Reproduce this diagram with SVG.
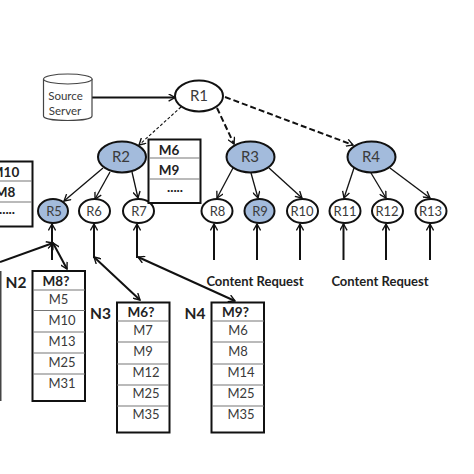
<svg xmlns="http://www.w3.org/2000/svg" width="474" height="474" viewBox="0 0 474 474">
<defs>
<marker id="o" viewBox="0 0 10 10" refX="9" refY="5" markerWidth="8" markerHeight="8" markerUnits="userSpaceOnUse" orient="auto-start-reverse"><path d="M1 0.500L9 5L1 9.500" fill="none" stroke="#111" stroke-width="1.700"/></marker>
</defs>
<style>
text{font-family:"Lato","Liberation Sans",Arial,sans-serif;text-anchor:middle;fill:#3a3a3a}
.n{font-size:15px}.s{font-size:13px}.b{font-weight:bold;fill:#222;font-size:13.500px}
.l{font-weight:bold;fill:#222;font-size:15.500px}
.w{fill:#fff;stroke:#111;stroke-width:2}.f{fill:#a3bbdc;stroke:#111;stroke-width:2}
.t{fill:#fff;stroke:#111;stroke-width:2}.d{stroke:#777;stroke-width:1.200;fill:none}
.c{fill:none;stroke:#111;marker-end:url(#o)}
.r{stroke-width:2}.a{stroke-width:1.300}
.dd{stroke-width:2;stroke-dasharray:6 3}.ds{stroke-width:1.100;stroke-dasharray:3 2}
.b2{marker-start:url(#o)}
</style>
<g id="connectors">
<path class="c r" d="M90 97.500H175"/>
<path class="c ds" d="M181 107L139 145"/>
<path class="c dd" d="M217 108L234 144"/>
<path class="c dd" d="M225 97L353 145"/>
<path class="c a" d="M103 168L64 201"/>
<path class="c a" d="M110 172L95 199"/>
<path class="c a" d="M132 172L138 198"/>
<path class="c a" d="M233 168L217 198"/>
<path class="c a" d="M251 173L258 198"/>
<path class="c a" d="M269 168L302 198"/>
<path class="c a" d="M354 168L344 198"/>
<path class="c a" d="M371 173L386 198"/>
<path class="c a" d="M390 168L430 198"/>
<path class="c r" d="M52 260V224"/>
<path class="c r" d="M94 258V224"/>
<path class="c r" d="M137 258V224"/>
<path class="c r" d="M214 260V224"/>
<path class="c r" d="M257 260V224"/>
<path class="c r" d="M300 260V224"/>
<path class="c r" d="M343.500 260V224"/>
<path class="c r" d="M386 260V224"/>
<path class="c r" d="M430 260V224"/>
<path class="c r" d="M0 262L53 243"/>
<path class="c r b2" d="M53 243L67 269"/>
<path class="c r b2" d="M94 257L140 300"/>
<path class="c r b2" d="M138 257L235 301"/>
</g>
<g id="source"><path d="M43.500 79V116C43.500 122 92 122 92 116V79" fill="#fff" stroke="#444" stroke-width="1.200"/><ellipse cx="67.800" cy="79" rx="24.300" ry="5" fill="#fff" stroke="#444" stroke-width="1.200"/><text x="65.500" y="100" style="font-size:11.500px">Source</text><text x="65" y="115" style="font-size:11.500px">Server</text></g>
<g id="R1"><ellipse class="w" cx="199" cy="96" rx="24" ry="15.500"/><text class="n" x="199" y="101">R1</text></g>
<g id="R2"><ellipse class="f" cx="122" cy="157" rx="24" ry="15.500"/><text class="n" x="121" y="162">R2</text></g>
<g id="R3"><ellipse class="f" cx="250.500" cy="157" rx="24" ry="15.500"/><text class="n" x="250" y="162">R3</text></g>
<g id="R4"><ellipse class="f" cx="371.500" cy="157" rx="24" ry="15.500"/><text class="n" x="371" y="162">R4</text></g>
<g id="R5"><ellipse class="f" cx="53" cy="211" rx="15" ry="12"/><text class="s" x="54" y="216">R5</text></g>
<g id="R6"><ellipse class="w" cx="94.500" cy="211" rx="15.500" ry="12"/><text class="s" x="94" y="216">R6</text></g>
<g id="R7"><ellipse class="w" cx="138.500" cy="211" rx="15.500" ry="12"/><text class="s" x="139" y="216">R7</text></g>
<g id="R8"><ellipse class="w" cx="217" cy="211" rx="15.500" ry="12"/><text class="s" x="217.500" y="216">R8</text></g>
<g id="R9"><ellipse class="f" cx="259.500" cy="211" rx="15" ry="12"/><text class="s" x="260" y="216">R9</text></g>
<g id="R10"><ellipse class="w" cx="302.500" cy="211" rx="15.500" ry="12"/><text class="s" x="302" y="216">R10</text></g>
<g id="R11"><ellipse class="w" cx="345" cy="211" rx="15.500" ry="12"/><text class="s" x="345" y="216">R11</text></g>
<g id="R12"><ellipse class="w" cx="387.500" cy="211" rx="15.500" ry="12"/><text class="s" x="387" y="216">R12</text></g>
<g id="R13"><ellipse class="w" cx="431" cy="211" rx="15.500" ry="12"/><text class="s" x="430.500" y="216">R13</text></g>
<g id="cacheR2"><rect class="t" x="148.500" y="139.500" width="52" height="63.500"/><path class="d" d="M149 158H200M149 179H200"/><text class="b" x="169" y="154.500">M6</text><text class="b" x="169" y="174.500">M9</text><text class="b" x="175" y="192">.....</text></g>
<g id="cacheLeft"><rect class="t" x="-20" y="161.500" width="52.500" height="65"/><path class="d" d="M0 181H32M0 202H32"/><text class="b" x="5" y="176.500">M10</text><text class="b" x="5" y="197">M8</text><text class="b" x="7" y="214">.....</text></g>
<g id="tableLeft"><path d="M0.500 271V401" stroke="#444" stroke-width="2" fill="none"/></g>
<g id="N2"><text class="l" x="16" y="288">N2</text><rect class="t" x="32.500" y="271" width="52.500" height="130"/><path class="d" d="M33 290H85M33 310.500H85M33 332H85M33 353H85M33 374H85"/><text class="b" x="56" y="286">M8?</text><text class="s" x="58.500" y="304">M5</text><text class="s" x="62" y="325">M10</text><text class="s" x="62" y="346">M13</text><text class="s" x="62" y="367">M25</text><text class="s" x="62" y="388">M31</text></g>
<g id="N3"><text class="l" x="100.500" y="319">N3</text><rect class="t" x="117" y="302.500" width="52.500" height="130"/><path class="d" d="M117 321H169M117 342H169M117 364H169M117 385H169M117 406H169"/><text class="b" x="141" y="317">M6?</text><text class="s" x="143" y="335">M7</text><text class="s" x="143" y="356">M9</text><text class="s" x="146" y="377">M12</text><text class="s" x="146" y="398">M25</text><text class="s" x="146" y="419">M35</text></g>
<g id="N4"><text class="l" x="195" y="319">N4</text><rect class="t" x="211.500" y="302.500" width="52.500" height="130"/><path class="d" d="M212 321H264M212 342H264M212 364H264M212 385H264M212 406H264"/><text class="b" x="235.500" y="317">M9?</text><text class="s" x="238" y="335">M6</text><text class="s" x="238" y="356">M8</text><text class="s" x="241" y="377">M14</text><text class="s" x="241" y="398">M25</text><text class="s" x="241" y="419">M35</text></g>
<text class="b" x="255" y="286" style="font-size:13px">Content Request</text>
<text class="b" x="380" y="286" style="font-size:13px">Content Request</text>
</svg>
